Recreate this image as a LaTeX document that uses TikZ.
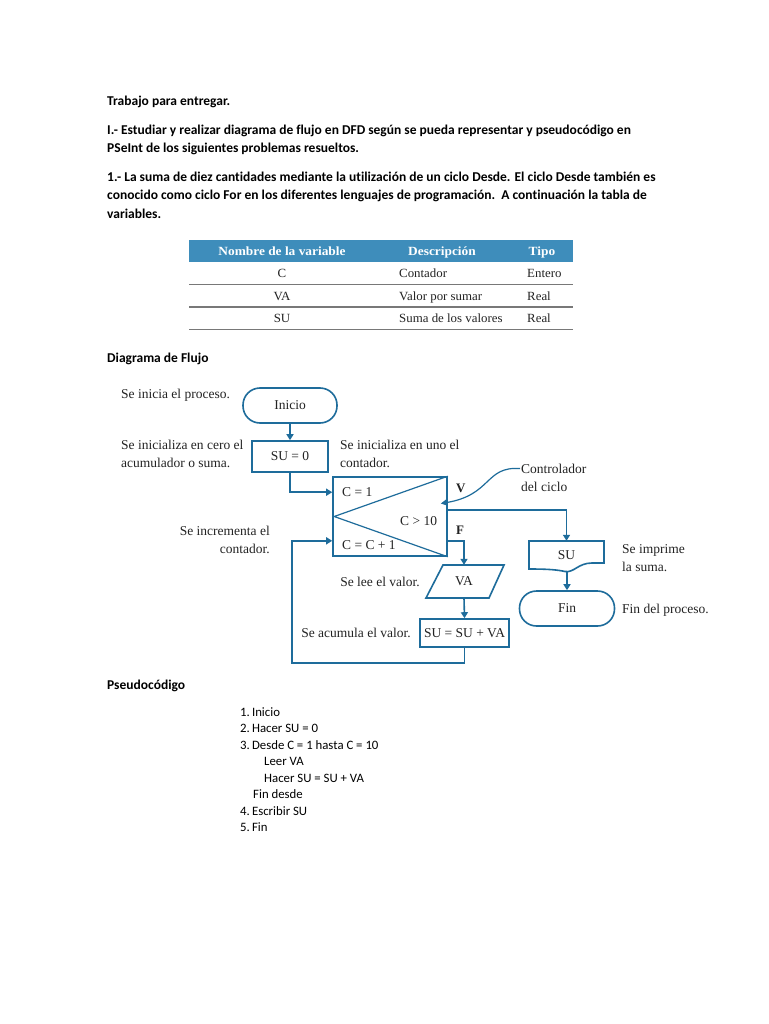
\documentclass[tikz,border=0pt]{standalone}
\usepackage{fontspec}
\setmainfont{Carlito}[RawFeature=-liga]
\newfontfamily\dfont{Liberation Serif}
\newfontfamily\hfont{Liberation Serif}[FakeStretch=1.07]
\newfontfamily\tfont{Liberation Serif}[FakeStretch=1.03]
\usetikzlibrary{arrows.meta,calc}
\definecolor{linec}{RGB}{30,108,155}
\definecolor{headc}{RGB}{62,141,187}
\definecolor{txtc}{RGB}{35,35,35}
\definecolor{rulec}{RGB}{120,120,120}
\begin{document}
\begin{tikzpicture}[x=1pt,y=-1pt,
  body/.style={anchor=base west,inner sep=0pt,font=\fontsize{13.5}{16}\selectfont\bfseries,text=black},
  pseudo/.style={anchor=west,inner sep=0pt,font=\fontsize{12.8}{15}\selectfont,text=black},
  lbl/.style={inner sep=0pt,font=\dfont\fontsize{13.5}{18}\selectfont,text=txtc},
  cell/.style={inner sep=0pt,anchor=base,font=\tfont\fontsize{12.5}{15}\selectfont,text=txtc},
  lcell/.style={cell,anchor=base west},
  hcell/.style={inner sep=0pt,anchor=base,font=\hfont\fontsize{12.5}{15}\selectfont\bfseries,text=white},
  flow/.style={draw=linec,line width=1.6pt},
  box/.style={flow,rectangle,inner sep=0pt,font=\dfont\fontsize{13.5}{16}\selectfont,text=txtc},
  term/.style={box,rounded corners=17pt},
  arr/.style={draw=linec,line width=1.6pt,-{Triangle[length=6pt,width=7pt]}},
  vf/.style={inner sep=0pt,font=\dfont\fontsize{13}{16}\selectfont\bfseries,text=txtc}
]
\useasboundingbox (0,0) rectangle (768,1024);
\fill[white] (0,0) rectangle (768,1024);

% ---- header text
\node[body] (t1) at (107,106) {Trabajo para entregar.};
\node[body] (t2) at (107,134.5) {I.- Estudiar y realizar diagrama de flujo en DFD según se pueda representar y pseudocódigo en};
\node[body] (t3) at (107,152.5) {PSeInt de los siguientes problemas resueltos.};
\node[body] (t4) at (107,181.5) {1.- La suma de diez cantidades mediante la utilización de un ciclo Desde. El ciclo Desde también es};
\node[body] (t5) at (107,200) {conocido como ciclo For en los diferentes lenguajes de programación.\ \ A continuación la tabla de};
\node[body] (t6) at (107,218.5) {variables.};

% ---- table
\fill[headc] (189,240) rectangle (573,262);
\draw[rulec,line width=1.2pt] (189,284.5) -- (573,284.5);
\draw[rulec,line width=1.2pt] (189,307) -- (573,307);
\draw[rulec,line width=1.2pt] (189,329.5) -- (573,329.5);
\node[hcell] (h1) at (282,255.5) {Nombre de la variable};
\node[hcell] (h2) at (442,255.5) {Descripción};
\node[hcell] (h3) at (542,255.5) {Tipo};
\node[cell] (c11) at (282,277.5) {C};
\node[lcell] (c12) at (399,277.5) {Contador};
\node[lcell] (c13) at (527,277.5) {Entero};
\node[cell] (c21) at (282,300) {VA};
\node[lcell] (c22) at (399,300) {Valor por sumar};
\node[lcell] (c23) at (527,300) {Real};
\node[cell] (c31) at (282,322.5) {SU};
\node[lcell] (c32) at (399,322.5) {Suma de los valores};
\node[lcell] (c33) at (527,322.5) {Real};

% ---- flow diagram
\node[body] (dtitle) at (107,362) {Diagrama de Flujo};

\node[term,minimum width=94pt,minimum height=35pt] (inicio) at (290,405.5) {Inicio};
\node[box,minimum width=76pt,minimum height=31pt] (su0) at (290,456.5) {SU = 0};
\node[box,minimum width=114pt,minimum height=79pt] (loop) at (390,516.5) {};
\draw[draw=linec,line width=1.2pt] (loop.north east) -- ($(loop.west)+(2,0)$) -- (loop.south east);
\node[lbl,anchor=west] (c1) at (342,492) {C = 1};
\node[lbl,anchor=west] (c10) at (400,521) {C > 10};
\node[lbl,anchor=west] (cc1) at (342,545) {C = C + 1};
\node[vf,anchor=west] (vlab) at (456,488) {V};
\node[vf,anchor=west] (flab) at (456,530) {F};

% read VA (parallelogram)
\node[inner sep=0pt,minimum width=62pt,minimum height=33pt,font=\dfont\fontsize{13.5}{16}\selectfont,text=txtc] (va) at (464,581.5) {VA};
\draw[flow] ($(va.center)+(-21,-16.5)$) -- ($(va.center)+(40,-16.5)$) -- ($(va.center)+(25,16.5)$) -- ($(va.center)+(-38,16.5)$) -- cycle;
\node[box,minimum width=89pt,minimum height=28pt] (suva) at (464.5,633) {SU = SU + VA};

% output SU (document)
\node[inner sep=0pt,minimum width=75pt,minimum height=28pt,font=\dfont\fontsize{13.5}{16}\selectfont,text=txtc] (sud) at (566.5,555) {SU};
\draw[flow] (529,541) -- (604,541) -- (604,563) -- (592,563) .. controls (578,563) and (574,573) .. (565,571.5) .. controls (558,570) and (550,569) .. (529,569) -- cycle;
\coordinate (sudb) at (567,571.5);
\node[term,minimum width=95pt,minimum height=35pt] (fin) at (567,608.5) {Fin};

% connectors
\draw[arr] (inicio.south) -- (su0.north);
\draw[arr] (su0.south) |- ($(loop.north west)+(0,16)$);
\draw[arr] ($(loop.north east)+(0,33.5)$) -| (sud.north);
\draw[arr] ($(loop.south east)+(0,-16)$) -| (va.north);
\draw[arr] (va.south) -- (suva.north);
\coordinate (ret) at (292,663);
\draw[arr] (suva.south) |- (ret) |- ($(loop.south west)+(0,-16)$);
\draw[arr] (sudb) -- (fin.north);

% annotation arrow
\node[lbl,anchor=west,align=left] (ctl) at (521,477.5) {Controlador\\del ciclo};
\coordinate (ctltip) at ($(loop.east)+(-7,-13)$);
\draw[draw=linec,line width=1.2pt,-{Triangle[length=6pt,width=6pt]}] ($(ctl.north west)+(-1,5)$) .. controls (485,466) and (492,495) .. (ctltip);

% side labels
\node[lbl,anchor=west] (l1) at (121,395) {Se inicia el proceso.};
\node[lbl,anchor=west,align=left] (l2) at (121,454) {Se inicializa en cero el\\acumulador o suma.};
\node[lbl,anchor=west,align=left] (l3) at (340,454) {Se inicializa en uno el\\contador.};
\node[lbl,anchor=east,align=right] (l4) at (270,540) {Se incrementa el\\contador.};
\node[lbl,anchor=east] (l5) at (420,582) {Se lee el valor.};
\node[lbl,anchor=east] (l6) at (411,633) {Se acumula el valor.};
\node[lbl,anchor=west,align=left] (l7) at (622,558) {Se imprime\\la suma.};
\node[lbl,anchor=west] (l8) at (622,610) {Fin del proceso.};

% ---- pseudocode
\node[body] (ptitle) at (107,689) {Pseudocódigo};
\node[pseudo] (p1) at (240,712) {1.\,Inicio};
\node[pseudo] (p2) at (240,728.5) {2.\,Hacer SU = 0};
\node[pseudo] (p3) at (240,745) {3.\,Desde C = 1 hasta C = 10};
\node[pseudo] (p4) at (264,761.5) {Leer VA};
\node[pseudo] (p5) at (264,778) {Hacer SU = SU + VA};
\node[pseudo] (p6) at (253,794.5) {Fin desde};
\node[pseudo] (p7) at (240,811) {4.\,Escribir SU};
\node[pseudo] (p8) at (240,827) {5.\,Fin};
\end{tikzpicture}
\end{document}
